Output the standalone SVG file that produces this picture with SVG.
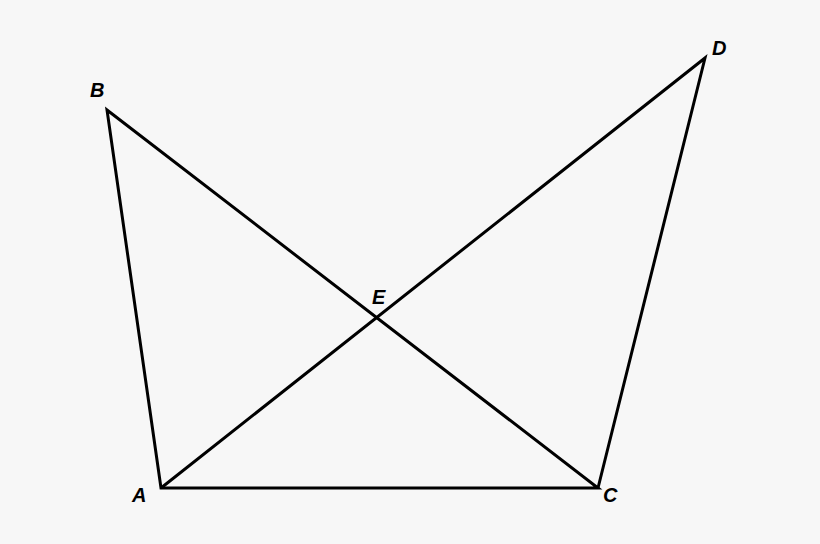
<svg xmlns="http://www.w3.org/2000/svg" width="820" height="544" viewBox="0 0 820 544">
<style>
.edge{fill:none;stroke:#000;stroke-width:3;stroke-linejoin:miter;stroke-miterlimit:20}
.lbl{font-family:"Liberation Sans",Arial,sans-serif;font-size:20px;font-weight:bold;font-style:italic;fill:#000}
</style>
<rect width="820" height="544" fill="#f7f7f7"/>
<g id="connectors">
<path class="edge" d="M161,488 L107,110 L598,488 Z"/>
<path class="edge" d="M161,488 L705,58 L598,488"/>
</g>
<g id="node-A"><text class="lbl" x="132" y="502">A</text></g>
<g id="node-B"><text class="lbl" x="90" y="97">B</text></g>
<g id="node-C"><text class="lbl" x="603" y="502">C</text></g>
<g id="node-D"><text class="lbl" x="712" y="55">D</text></g>
<g id="node-E"><text class="lbl" x="372" y="304">E</text></g>
</svg>
